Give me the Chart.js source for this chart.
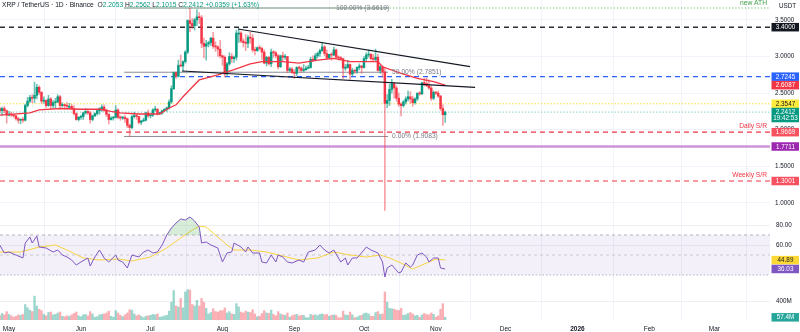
<!DOCTYPE html>
<html>
<head>
<meta charset="utf-8">
<title>XRP / TetherUS 1D</title>
<script src="https://cdn.jsdelivr.net/npm/chart.js@4.4.1/dist/chart.umd.min.js"></script>
<style>
  html, body { margin: 0; padding: 0; background: #fff; }
  #chart { display: block; }
</style>
</head>
<body>
<canvas id="chart" width="800" height="332"></canvas>
<script>
// day 0 = 1 May 2025, one daily candle from 27 Apr to 5 Nov 2025
const firstDay = -4;

const openP = [
  2.29,2.26,2.29,2.26,
  2.20,2.21,2.20,2.19,2.15,2.13,2.14,2.13,2.33,2.39,2.44,2.43,2.47,2.58,2.51,2.39,2.40,2.33,2.42,2.33,2.37,2.38,2.45,2.33,2.34,2.33,2.32,2.32,2.29,2.22,2.14,
  2.17,2.18,2.23,2.25,2.23,2.14,2.19,2.22,2.26,2.29,2.31,2.27,2.21,2.14,2.16,2.17,2.27,2.17,2.16,2.17,2.15,2.06,2.03,2.18,2.19,2.18,2.10,2.12,2.13,2.23,
  2.19,2.20,2.27,2.28,2.22,2.23,2.26,2.28,2.30,2.38,2.56,2.78,2.73,2.88,2.87,2.93,3.06,3.49,3.45,3.42,3.50,3.54,3.53,3.18,3.14,3.17,3.19,3.25,3.14,3.13,3.10,
  3.01,2.99,2.76,2.90,3.00,2.97,2.99,3.32,3.32,3.21,3.19,3.18,3.26,3.25,3.09,3.08,3.12,3.11,3.06,2.91,2.99,2.90,3.06,3.05,3.01,2.86,3.01,2.99,3.00,2.81,2.83,
  2.78,2.77,2.85,2.84,2.81,2.82,2.84,2.85,2.96,2.95,3.01,3.04,3.08,3.13,3.04,2.98,3.03,3.02,3.09,2.99,2.98,2.97,2.84,2.85,2.89,2.76,2.81,2.80,2.85,2.87,
  2.85,2.97,3.02,3.03,2.97,2.96,2.99,2.81,2.86,2.79,2.36,2.40,2.55,2.63,2.57,2.43,2.35,2.33,2.38,2.42,2.45,2.42,2.37,2.42,2.50,2.49,2.64,2.63,2.60,2.57,2.43,
  2.51,2.50,2.46,2.29,2.2053
];
const highP = [
  2.31,2.31,2.32,2.27,
  2.25,2.24,2.21,2.20,2.17,2.15,2.17,2.35,2.44,2.47,2.48,2.65,2.62,2.60,2.52,2.45,2.41,2.47,2.44,2.40,2.43,2.48,2.47,2.37,2.35,2.37,2.36,2.35,2.33,2.23,2.18,
  2.20,2.24,2.29,2.27,2.25,2.20,2.23,2.27,2.30,2.34,2.34,2.28,2.22,2.18,2.18,2.33,2.29,2.19,2.18,2.20,2.16,2.08,2.20,2.24,2.21,2.18,2.13,2.16,2.24,2.27,
  2.22,2.29,2.32,2.29,2.24,2.27,2.29,2.31,2.41,2.60,2.79,2.79,2.95,3.02,2.94,3.08,3.50,3.66,3.52,3.52,3.64,3.60,3.56,3.25,3.22,3.21,3.26,3.33,3.20,3.15,3.22,
  3.02,3.01,2.92,3.05,3.04,3.01,3.36,3.38,3.34,3.24,3.30,3.29,3.33,3.30,3.13,3.13,3.15,3.13,3.09,3.00,3.00,3.10,3.08,3.07,3.03,3.02,3.06,3.03,3.00,2.85,2.85,
  2.82,2.86,2.87,2.86,2.89,2.87,2.88,2.99,3.01,3.04,3.06,3.10,3.19,3.15,3.09,3.03,3.05,3.13,3.10,3.01,3.00,2.98,2.89,2.95,2.90,2.84,2.82,2.86,2.90,2.88,
  3.00,3.05,3.09,3.04,3.03,3.10,3.03,2.88,2.87,2.84,2.48,2.62,2.69,2.64,2.60,2.50,2.37,2.40,2.45,2.53,2.52,2.46,2.44,2.50,2.52,2.65,2.70,2.71,2.68,2.60,2.53,
  2.52,2.53,2.47,2.34,2.2562
];
const lowP = [
  2.23,2.20,2.23,2.09,
  2.19,2.18,2.17,2.13,2.09,2.08,2.10,2.12,2.31,2.37,2.37,2.37,2.42,2.48,2.36,2.36,2.30,2.32,2.28,2.30,2.30,2.37,2.30,2.31,2.28,2.30,2.29,2.28,2.20,2.13,2.12,
  2.14,2.14,2.21,2.21,2.09,2.12,2.18,2.20,2.21,2.25,2.25,2.18,2.08,2.13,2.13,2.16,2.15,2.13,2.14,2.10,2.03,1.91,2.01,2.16,2.14,2.08,2.07,2.11,2.12,2.17,
  2.16,2.18,2.25,2.20,2.21,2.21,2.25,2.25,2.28,2.36,2.55,2.70,2.72,2.86,2.80,2.91,3.04,3.34,3.38,3.36,3.42,3.45,3.12,2.98,2.95,3.13,3.15,3.11,3.07,3.00,2.98,
  2.88,2.72,2.74,2.88,2.92,2.92,2.95,3.19,3.19,3.13,3.08,3.12,3.18,3.06,3.02,3.07,3.09,2.96,2.90,2.87,2.88,2.86,2.99,2.98,2.83,2.85,2.94,2.96,2.78,2.79,2.77,
  2.70,2.74,2.80,2.78,2.79,2.81,2.83,2.84,2.93,2.94,2.98,3.00,3.07,3.01,2.96,2.97,2.95,3.01,2.97,2.95,2.96,2.70,2.81,2.84,2.69,2.73,2.77,2.77,2.82,2.77,
  2.84,2.94,2.99,2.95,2.94,2.94,2.80,2.77,2.72,0.90,2.30,2.33,2.50,2.43,2.39,2.32,2.19,2.31,2.35,2.39,2.36,2.32,2.35,2.40,2.47,2.48,2.60,2.59,2.55,2.40,2.41,
  2.48,2.44,2.26,2.06,2.1015
];
const closeP = [
  2.26,2.29,2.26,2.20,
  2.21,2.20,2.19,2.15,2.13,2.14,2.13,2.33,2.39,2.44,2.43,2.47,2.58,2.51,2.39,2.40,2.33,2.42,2.33,2.37,2.38,2.45,2.33,2.34,2.33,2.32,2.32,2.29,2.22,2.14,2.17,
  2.18,2.23,2.25,2.23,2.14,2.19,2.22,2.26,2.29,2.31,2.27,2.21,2.14,2.16,2.17,2.27,2.17,2.16,2.17,2.15,2.06,2.03,2.18,2.19,2.18,2.10,2.12,2.13,2.23,2.19,
  2.20,2.27,2.28,2.22,2.23,2.26,2.28,2.30,2.38,2.56,2.78,2.73,2.88,2.87,2.93,3.06,3.49,3.45,3.42,3.50,3.54,3.53,3.18,3.14,3.17,3.19,3.25,3.14,3.13,3.10,3.01,
  2.99,2.76,2.90,3.00,2.97,2.99,3.32,3.32,3.21,3.19,3.18,3.26,3.25,3.09,3.08,3.12,3.11,3.06,2.91,2.99,2.90,3.06,3.05,3.01,2.86,3.01,2.99,3.00,2.81,2.83,2.78,
  2.77,2.85,2.84,2.81,2.82,2.84,2.85,2.96,2.95,3.01,3.04,3.08,3.13,3.04,2.98,3.03,3.02,3.09,2.99,2.98,2.97,2.84,2.85,2.89,2.76,2.81,2.80,2.85,2.87,2.85,
  2.97,3.02,3.03,2.97,2.96,2.99,2.81,2.86,2.79,2.36,2.40,2.55,2.63,2.57,2.43,2.35,2.33,2.38,2.42,2.45,2.42,2.37,2.42,2.50,2.49,2.64,2.63,2.60,2.57,2.43,2.51,
  2.50,2.46,2.29,2.2053,2.2412
];
// volume in millions
const volumeM = [
  90,140,110,180,
  120,90,60,80,110,100,120,330,260,210,180,510,300,230,200,120,90,160,170,110,120,150,170,80,70,90,80,110,140,170,90,
  70,110,120,90,180,130,60,70,110,120,130,150,190,80,60,200,150,100,70,110,150,220,210,130,90,110,80,50,80,90,
  100,120,110,130,60,70,90,100,190,380,630,300,280,460,260,600,650,640,330,300,420,300,460,380,250,130,160,240,180,170,200,
  200,260,150,180,130,120,350,280,170,150,190,170,160,220,130,70,80,140,200,150,140,210,120,90,180,130,110,100,150,60,90,
  110,120,90,100,100,50,50,120,100,110,90,120,130,110,120,80,100,110,100,50,50,190,110,100,170,110,50,60,90,100,
  140,150,130,80,80,160,180,120,130,600,380,250,240,230,210,200,250,100,110,140,160,130,90,100,60,110,140,120,110,150,120,
  60,90,230,350,57.4
];

// moving average on price
const maDays = [-4, 9, 13, 22, 31, 39, 44, 48, 56, 65, 68, 72, 75, 78, 82, 90, 97, 104, 109, 118, 125, 133, 140, 147, 154, 159, 161, 169, 176, 183, 188];
const maVals = [2.20, 2.23, 2.27, 2.29, 2.28, 2.28, 2.25, 2.23, 2.215, 2.215, 2.28, 2.34, 2.45, 2.55, 2.68, 2.75, 2.82, 2.90, 2.93, 2.93, 2.91, 2.95, 2.975, 2.93, 2.93, 2.93, 2.86, 2.77, 2.70, 2.656, 2.6087];

// RSI and its moving average
const rsiDays = [-4,-2,0,3,6,7,9,10,12,13,16,19,21,23,25,27,29,31,34,35,37,39,41,43,46,47,49,51,53,56,58,60,62,64,66,68,70,72,74,76,78,80,82,83,85,87,90,92,94,96,97,100,102,103,105,108,109,111,113,115,116,118,120,122,125,127,129,132,134,136,138,140,143,145,146,148,150,153,154,156,159,161,162,163,165,168,169,171,173,174,176,178,180,181,183,185,186,188];
const rsiVals = [60,52,53,50,47,62,68,62,69,58,57,53,55,50,48,45,40,43,47,39,48,55,47,43,50,45,43,37,50,48,53,55,52,53,60,70,77,82,86,85,88,84,78,62,63,60,57,43,52,53,62,58,53,58,52,52,43,42,50,43,50,48,43,42,45,43,53,55,60,55,52,55,43,47,40,47,47,55,58,55,52,43,28,37,40,32,33,42,38,40,50,52,48,43,47,47,37,36.03];
const rsiMaDays = [-4, 5, 13, 20, 25, 32, 39, 47, 53, 61, 68, 74, 79, 82, 85, 88, 94, 97, 104, 111, 118, 125, 133, 140, 147, 154, 160, 164, 169, 173, 174, 178, 184, 188];
const rsiMaVals = [53, 53, 58, 60, 55, 47, 45, 46, 44, 48, 57, 67, 75, 79, 78, 72, 60, 55, 55, 53, 49, 45, 47, 53, 50, 48, 50, 47, 42, 37, 36, 40, 46, 44.89];

// drawings
const levelPrices = [3.4, 2.7245, 2.3547, 2.2412, 1.9669, 1.7711, 1.3001];
const athPrice = 3.6619;
const fibPrices = [3.6619, 2.7851, 1.9083];
const fibLabels = ['100.00% (3.6619)', '50.00% (2.7851)', '0.00% (1.9083)'];
const fibDays = [49.6, 163.4];
const upperTrendDays = [98.7, 198.7];
const upperTrendPrices = [3.375, 2.862];
const lowerTrendDays = [74.6, 200.9];
const lowerTrendPrices = [2.802, 2.578];

// axes
const monthDays = [0, 31, 61, 92, 123, 153, 184, 214, 245, 276, 304];
const monthLabels = ['May', 'Jun', 'Jul', 'Aug', 'Sep', 'Oct', 'Nov', 'Dec', '2026', 'Feb', 'Mar'];
const priceTicks = [1.0, 1.5, 2.0, 2.5, 3.0, 3.5];
const rsiTicks = [60, 80];
const volTicks = [400];

const UP = '#089981', DOWN = '#f23645';
const FONT = '"Liberation Sans", Arial, sans-serif';
const X_MIN = -3.88, X_MAX = 328;

const levelStyles = [
  { color: '#2a2e39', dash: [5, 4], width: 1.4 },
  { color: '#2962ff', dash: [5, 4], width: 1.3 },
  { color: '#f5dc1a', dash: [1.2, 2], width: 1.2 },
  { color: 'rgba(8,153,129,0.45)', dash: [1.2, 2], width: 1.2 },
  { color: '#f23645', dash: [5, 4], width: 1.2 },
  { color: '#ce93d8', dash: [], width: 2.4 },
  { color: '#f23645', dash: [5, 4], width: 1.2 }
];

const days = openP.map((_, i) => firstDay + i);
const isUp = closeP.map((c, i) => c >= openP[i]);

function pts(xs, ys) { return xs.map((x, i) => ({ x: x, y: ys[i] })); }
function flat(v, from, to) { return [{ x: from, y: v }, { x: to, y: v }]; }
function lineDs(data, axis, color, width, dash, order, extra) {
  return Object.assign({
    type: 'line', yAxisID: axis, data: data, borderColor: color, borderWidth: width,
    borderDash: dash || [], pointRadius: 0, fill: false, order: order, tension: 0
  }, extra || {});
}

const datasets = [];
// trendlines on top
datasets.push(lineDs(pts(upperTrendDays, upperTrendPrices), 'yPrice', '#131722', 1.1, [], 0));
datasets.push(lineDs(pts(lowerTrendDays, lowerTrendPrices), 'yPrice', '#131722', 1.1, [], 0));
// price moving average
datasets.push(lineDs(pts(maDays, maVals), 'yPrice', '#f23645', 1.3, [], 1));
// candles
datasets.push({
  type: 'bar', yAxisID: 'yPrice', order: 2, grouped: false, barThickness: 1.8, minBarLength: 1,
  data: days.map((d, i) => ({ x: d, y: [openP[i], closeP[i]] })),
  backgroundColor: isUp.map(u => u ? UP : DOWN)
});
datasets.push({
  type: 'bar', yAxisID: 'yPrice', order: 3, grouped: false, barThickness: 0.9,
  data: days.map((d, i) => ({ x: d, y: [lowP[i], highP[i]] })),
  backgroundColor: isUp.map(u => u ? 'rgba(8,153,129,0.6)' : 'rgba(242,54,69,0.5)')
});
// horizontal levels
levelPrices.forEach((p, i) => {
  const s = levelStyles[i];
  datasets.push(lineDs(flat(p, X_MIN, X_MAX), 'yPrice', s.color, s.width, s.dash, 4));
});
datasets.push(lineDs(flat(athPrice, fibDays[0], X_MAX), 'yPrice', '#66bb6a', 1.2, [1.2, 2], 4));
// fib levels
fibPrices.forEach(p => datasets.push(lineDs(flat(p, fibDays[0], fibDays[1]), 'yPrice', '#8a8d96', 1, [], 5)));
// volume
datasets.push({
  type: 'bar', yAxisID: 'yVol', order: 6, grouped: false, barThickness: 1.7,
  data: days.map((d, i) => ({ x: d, y: volumeM[i] })),
  backgroundColor: isUp.map(u => u ? 'rgba(8,153,129,0.4)' : 'rgba(242,54,69,0.4)')
});
// RSI pane
datasets.push(lineDs(pts(rsiDays, rsiVals), 'yRsi', '#7e57c2', 1, [], 7, {
  fill: { target: { value: 70 }, above: 'rgba(76,175,80,0.22)', below: 'rgba(0,0,0,0)' }
}));
datasets.push(lineDs(pts(rsiMaDays, rsiMaVals), 'yRsi', '#f7d23e', 1, [], 7));
datasets.push(lineDs(flat(70, X_MIN, X_MAX), 'yRsi', '#b2b5be', 1, [3, 3], 8));
datasets.push(lineDs(flat(50, X_MIN, X_MAX), 'yRsi', 'rgba(178,181,190,0.6)', 1, [3, 3], 8));
datasets.push(lineDs(flat(30, X_MIN, X_MAX), 'yRsi', '#b2b5be', 1.2, [1.5, 2], 8, {
  fill: { value: 70 }, backgroundColor: 'rgba(126,87,194,0.09)'
}));

function zeroPad(s) { s.paddingTop = 0; s.paddingBottom = 0; s.paddingLeft = 0; s.paddingRight = 0; }

const overlay = {
  id: 'overlay',
  afterDraw(chart) {
    const ctx = chart.ctx;
    const xs = chart.scales.x, yp = chart.scales.yPrice, yr = chart.scales.yRsi, yv = chart.scales.yVol;
    const f = (size, w) => (w ? w + ' ' : '') + size + 'px ' + FONT;
    ctx.save();
    ctx.textBaseline = 'middle';

    // header
    const parts = [
      ['XRP / TetherUS \u00b7 1D \u00b7 Binance  ', '#131722'],
      ['O', '#131722'], ['2.2053 ', UP], ['H', '#131722'], ['2.2562 ', UP],
      ['L', '#131722'], ['2.1015 ', UP], ['C', '#131722'], ['2.2412 ', UP], ['+0.0359 (+1.63%)', UP]
    ];
    ctx.font = f(6.7);
    ctx.textAlign = 'left';
    let hx = 2;
    parts.forEach(p => { ctx.fillStyle = p[1]; ctx.fillText(p[0], hx, 5.5); hx += ctx.measureText(p[0]).width; });

    // fib labels
    ctx.fillStyle = '#787b86';
    const fx = xs.getPixelForValue(fibDays[1]) + 4;
    fibPrices.forEach((p, i) => {
      const y = yp.getPixelForValue(p);
      ctx.fillText(fibLabels[i], i === 0 ? 336 : fx, y);
    });

    // notes
    ctx.textAlign = 'right';
    ctx.fillStyle = '#43a047';
    ctx.fillText('new ATH', 767, yp.getPixelForValue(athPrice) - 5);
    ctx.fillStyle = '#f23645';
    ctx.fillText('Daily S/R', 767, yp.getPixelForValue(1.9669) - 6);
    ctx.fillText('Weekly S/R', 767, yp.getPixelForValue(1.3001) - 6);

    // price scale title and the lower pane scale labels
    ctx.font = f(6.3);
    ctx.textAlign = 'left';
    ctx.fillStyle = '#131722';
    ctx.fillText('USDT', 779, 6);
    rsiTicks.forEach(v => ctx.fillText(v.toFixed(2), 776, yr.getPixelForValue(v)));
    volTicks.forEach(v => ctx.fillText(v + 'M', 776, yv.getPixelForValue(v)));

    // tags on the right scale
    const tag = (y, text, bg, fg, h) => {
      h = h || 8.5;
      ctx.fillStyle = bg;
      ctx.fillRect(771.5, y - h / 2, 27.5, h);
      ctx.fillStyle = fg;
      ctx.textAlign = 'center';
      ctx.fillText(text, 785.5, y + 0.3);
    };
    tag(yp.getPixelForValue(3.4), '3.4000', '#131722', '#fff');
    tag(yp.getPixelForValue(2.7245), '2.7245', '#2962ff', '#fff');
    tag(yp.getPixelForValue(2.6087), '2.6087', '#f23645', '#fff');
    tag(yp.getPixelForValue(2.3547), '2.3547', '#ffeb3b', '#131722');
    const cy = yp.getPixelForValue(2.2412);
    ctx.fillStyle = '#089981';
    ctx.fillRect(771.5, cy - 4.3, 27.5, 14.5);
    ctx.fillStyle = '#fff';
    ctx.fillText('2.2412', 785.5, cy + 0.3);
    ctx.fillText('19:42:53', 785.5, cy + 6.6);
    tag(yp.getPixelForValue(1.9669), '1.9669', '#f5515f', '#fff');
    tag(yp.getPixelForValue(1.7711), '1.7711', '#9c27b0', '#fff');
    tag(yp.getPixelForValue(1.3001), '1.3001', '#f5515f', '#fff');
    tag(yr.getPixelForValue(44.89), '44.89', '#fdd835', '#131722');
    tag(yr.getPixelForValue(36.03), '36.03', '#7e57c2', '#fff');
    tag(yv.getPixelForValue(57.4), '57.4M', '#26a69a', '#fff');
    ctx.restore();
  }
};

new Chart(document.getElementById('chart').getContext('2d'), {
  type: 'bar',
  data: { datasets: datasets },
  options: {
    responsive: false,
    animation: false,
    layout: { padding: 0 },
    plugins: { legend: { display: false }, tooltip: { enabled: false } },
    scales: {
      x: {
        type: 'linear', min: X_MIN, max: X_MAX, offset: false,
        grid: { color: '#f0f3fa', drawTicks: false },
        border: { display: false },
        afterBuildTicks: s => { s.ticks = monthDays.map(v => ({ value: v })); },
        afterFit: s => { s.height = 12; zeroPad(s); },
        ticks: {
          autoSkip: false, maxRotation: 0, padding: 5, color: '#131722',
          font: c => ({ family: FONT, size: 6.5, weight: c.tick && c.tick.value === 245 ? 'bold' : 'normal' }),
          callback: v => { const i = monthDays.indexOf(v); return i < 0 ? '' : monthLabels[i]; }
        }
      },
      yRsi: {
        position: 'right', weight: 0, min: -15, max: 305,
        grid: { color: '#eef0f5', drawTicks: false },
        border: { display: false },
        afterBuildTicks: s => { s.ticks = rsiTicks.map(v => ({ value: v })); },
        afterFit: s => { s.width = 0; zeroPad(s); },
        ticks: { display: false }
      },
      yVol: {
        position: 'right', weight: 0, min: 0, max: 6845,
        grid: { color: '#eef0f5', drawTicks: false },
        border: { display: false },
        afterBuildTicks: s => { s.ticks = volTicks.map(v => ({ value: v })); },
        afterFit: s => { s.width = 0; zeroPad(s); },
        ticks: { display: false }
      },
      yPrice: {
        position: 'right', weight: 1, min: -0.5973, max: 3.7713,
        grid: { color: '#f0f3fa', drawTicks: false },
        border: { display: false },
        afterBuildTicks: s => { s.ticks = priceTicks.map(v => ({ value: v })); },
        afterFit: s => { s.width = 30; zeroPad(s); },
        ticks: { padding: 5, color: '#131722', font: { family: FONT, size: 6.3 }, callback: v => v.toFixed(4) }
      }
    }
  },
  plugins: [overlay]
});
</script>
</body>
</html>
